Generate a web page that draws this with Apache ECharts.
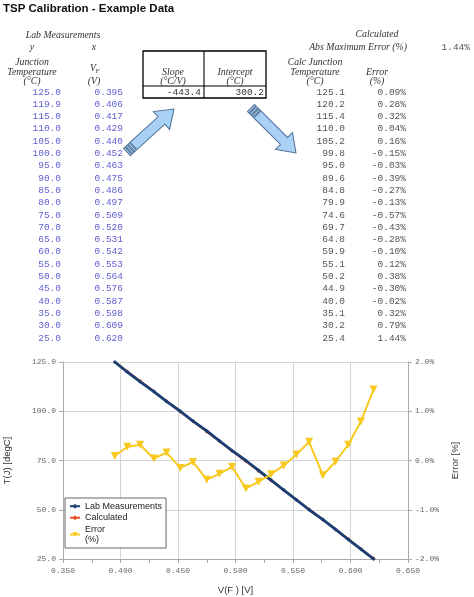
<!DOCTYPE html>
<html><head><meta charset="utf-8">
<script src="https://cdn.jsdelivr.net/npm/echarts@6/dist/echarts.min.js"></script>
<style>html,body{margin:0;padding:0;background:#fff}#c{width:474px;height:597px}</style>
</head><body><div id="c"></div>
<script>
// ---- data ----
const junctionTemp = [125.0,119.9,115.0,110.0,105.0,100.0,95.0,90.0,85.0,80.0,75.0,70.0,65.0,60.0,55.0,50.0,45.0,40.0,35.0,30.0,25.0];
const vf = [0.395,0.406,0.417,0.429,0.440,0.452,0.463,0.475,0.486,0.497,0.509,0.520,0.531,0.542,0.553,0.564,0.576,0.587,0.598,0.609,0.620];
const calcTemp = [125.1,120.2,115.4,110.0,105.2,99.8,95.0,89.6,84.8,79.9,74.6,69.7,64.8,59.9,55.1,50.2,44.9,40.0,35.1,30.2,25.4];
const errorPct = [0.09,0.28,0.32,0.04,0.16,-0.15,-0.03,-0.39,-0.27,-0.13,-0.57,-0.43,-0.28,-0.10,0.12,0.38,-0.30,-0.02,0.32,0.79,1.44];
const slope = -443.4;
const intercept = 300.2;
const maxAbsError = 1.44;
const seriesNames = ['Lab Measurements','Calculated','Error\n(%)'];
const xTicks = {min:0.35, max:0.65, interval:0.05};
const yTicks = {min:25, max:125, interval:25};
const y2Ticks = {min:-2, max:2, interval:1};

// ---- helpers ----
const MONO = '"Liberation Mono", "DejaVu Sans Mono", monospace';
const SERIF = '"Liberation Serif", "DejaVu Serif", serif';
const SANS = '"Liberation Sans", Arial, sans-serif';
const g = [];
function txt(t, x, y, o) {
  o = o || {};
  g.push({type:'text', x:x, y:y, silent:true, style:{
    text:t, fontSize:o.size||10, fontFamily:o.family||SERIF, fontStyle:o.style||'normal',
    fontWeight:o.weight||'normal', fill:o.color||'#333', align:o.align||'center', verticalAlign:'middle'}});
}
const it = {style:'italic', size:9.8, color:'#333'};
txt('TSP Calibration - Example Data', 3, 9, {family:SANS, weight:'bold', size:11.5, color:'#111', align:'left'});
txt('Lab Measurements', 63, 35, it);
txt('y', 32, 47, it); txt('x', 94, 47, it);
txt('Junction', 32, 62, it); txt('Temperature', 32, 72, it); txt('(°C)', 32, 81, it);
txt('V', 93, 68, it); txt('F', 97.5, 71, {style:'italic', size:6.5, color:'#333'}); txt('(V)', 94, 81, it);
txt('Slope', 173, 72, it); txt('(°C/V)', 173, 81, it);
txt('Intercept', 235, 72, it); txt('(°C)', 235, 81, it);
txt('Calculated', 377, 34, it);
txt('Abs Maximum Error (%)', 407, 47, Object.assign({}, it, {align:'right'}));
txt(maxAbsError.toFixed(2)+'%', 470, 47, {family:MONO, size:9.5, color:'#555', align:'right'});
txt('Calc Junction', 315, 62, it); txt('Temperature', 315, 72, it); txt('(°C)', 315, 81, it);
txt('Error', 377, 72, it); txt('(%)', 377, 81, it);
txt(slope.toFixed(1), 201, 92, {family:MONO, size:9.5, color:'#333', align:'right'});
txt(intercept.toFixed(1), 264, 92, {family:MONO, size:9.5, color:'#333', align:'right'});
for (let i = 0; i < junctionTemp.length; i++) {
  const y = 92 + i * 12.3;
  txt(junctionTemp[i].toFixed(1), 61, y, {family:MONO, size:9.5, color:'#5f5fd2', align:'right'});
  txt(vf[i].toFixed(3), 123, y, {family:MONO, size:9.5, color:'#5f5fd2', align:'right'});
  txt(calcTemp[i].toFixed(1), 345, y, {family:MONO, size:9.5, color:'#555', align:'right'});
  txt(errorPct[i].toFixed(2)+'%', 406, y, {family:MONO, size:9.5, color:'#555', align:'right'});
}
// box
g.push({type:'rect', silent:true, shape:{x:143, y:51, width:123, height:47}, style:{fill:'none', stroke:'#000', lineWidth:1.3}});
g.push({type:'line', silent:true, shape:{x1:204, y1:51, x2:204, y2:98}, style:{stroke:'#000', lineWidth:1.1}});
g.push({type:'line', silent:true, shape:{x1:143, y1:86, x2:266, y2:86}, style:{stroke:'#000', lineWidth:1.1}});
// arrows
function arrow(x0, y0, x1, y1) {
  const L = Math.hypot(x1-x0, y1-y0);
  const ang = Math.atan2(-(y1-y0), x1-x0);
  const ch = [];
  const st = {fill:'#a9d1f6', stroke:'#4f6f95', lineWidth:1};
  [0, 3, 6].forEach(s => ch.push({type:'rect', shape:{x:s, y:-5, width:2, height:10}, style:st}));
  ch.push({type:'polygon', shape:{points:[[9,-5],[L-17,-5],[L-17,-12],[L,0],[L-17,12],[L-17,5],[9,5]]}, style:st});
  g.push({type:'group', x:x0, y:y0, rotation:ang, silent:true, children:ch});
}
arrow(127, 152, 174, 109);
arrow(251, 108, 296, 153);

const labData = vf.map((v,i) => [v, junctionTemp[i]]);
const calcData = vf.map((v,i) => [v, calcTemp[i]]);
const errData = vf.map((v,i) => [v, errorPct[i]]);

const chart = echarts.init(document.getElementById('c'), null, {renderer:'canvas'});
const axisLbl = {fontFamily:MONO, fontSize:8, color:'#666'};
chart.setOption({
  animation:false,
  grid:{left:63, right:66, top:362, bottom:38, containLabel:false, outerBoundsMode:'none'},
  legend:{
    orient:'vertical', left:65, top:498, padding:[3,4,3,4], itemGap:1,
    itemWidth:10, itemHeight:6, backgroundColor:'#fff', borderColor:'#666', borderWidth:1,
    textStyle:{fontFamily:SANS, fontSize:9, color:'#222', lineHeight:10.5},
    data:seriesNames
  },
  xAxis:{
    type:'value', min:xTicks.min, max:xTicks.max, interval:xTicks.interval,
    name:'V(F ) [V]', nameLocation:'middle', nameGap:26,
    nameTextStyle:{fontFamily:SANS, fontSize:9.5, color:'#333'},
    axisLine:{onZero:false, lineStyle:{color:'#aaa'}},
    axisTick:{show:true, length:4, lineStyle:{color:'#aaa'}},
    minorTick:{show:true, splitNumber:2, length:4, lineStyle:{color:'#aaa'}},
    axisLabel:Object.assign({formatter:v => v.toFixed(3), margin:8}, axisLbl),
    splitLine:{show:true, lineStyle:{color:'#d4d4d4'}}
  },
  yAxis:[{
    type:'value', min:yTicks.min, max:yTicks.max, interval:yTicks.interval,
    name:'T(J) [degC]', nameLocation:'middle', nameGap:51, nameRotate:90,
    nameTextStyle:{fontFamily:SANS, fontSize:9.5, color:'#333'},
    axisLine:{show:true, onZero:false, lineStyle:{color:'#aaa'}},
    axisTick:{show:true, length:4, lineStyle:{color:'#aaa'}},
    axisLabel:Object.assign({formatter:v => v.toFixed(1), margin:7}, axisLbl),
    splitLine:{show:true, lineStyle:{color:'#d4d4d4'}}
  },{
    type:'value', position:'right', min:y2Ticks.min, max:y2Ticks.max, interval:y2Ticks.interval,
    name:'Error [%]', nameLocation:'middle', nameGap:33, nameRotate:90,
    nameTextStyle:{fontFamily:SANS, fontSize:9.5, color:'#333'},
    axisLine:{show:true, onZero:false, lineStyle:{color:'#aaa'}},
    axisTick:{show:true, length:4, lineStyle:{color:'#aaa'}},
    axisLabel:Object.assign({formatter:v => v.toFixed(1)+'%', margin:7}, axisLbl),
    splitLine:{show:false}
  }],
  series:[{
    name:seriesNames[0], type:'line', data:labData, z:4,
    color:'#1b3f73', lineStyle:{width:2.8, color:'#1b3f73'},
    symbol:'diamond', symbolSize:4, itemStyle:{color:'#1b3f73'}
  },{
    name:seriesNames[1], type:'line', data:calcData, z:3,
    color:'#e8502a', lineStyle:{width:2, color:'#e8502a'},
    symbol:'diamond', symbolSize:4, itemStyle:{color:'#e8502a'}
  },{
    name:seriesNames[2], type:'line', data:errData, yAxisIndex:1, z:5,
    color:'#f8c91f', lineStyle:{width:2, color:'#f8c91f'},
    symbol:'triangle', symbolRotate:180, symbolSize:8, itemStyle:{color:'#f8c91f'}
  }],
  graphic:g
});
</script></body></html>
